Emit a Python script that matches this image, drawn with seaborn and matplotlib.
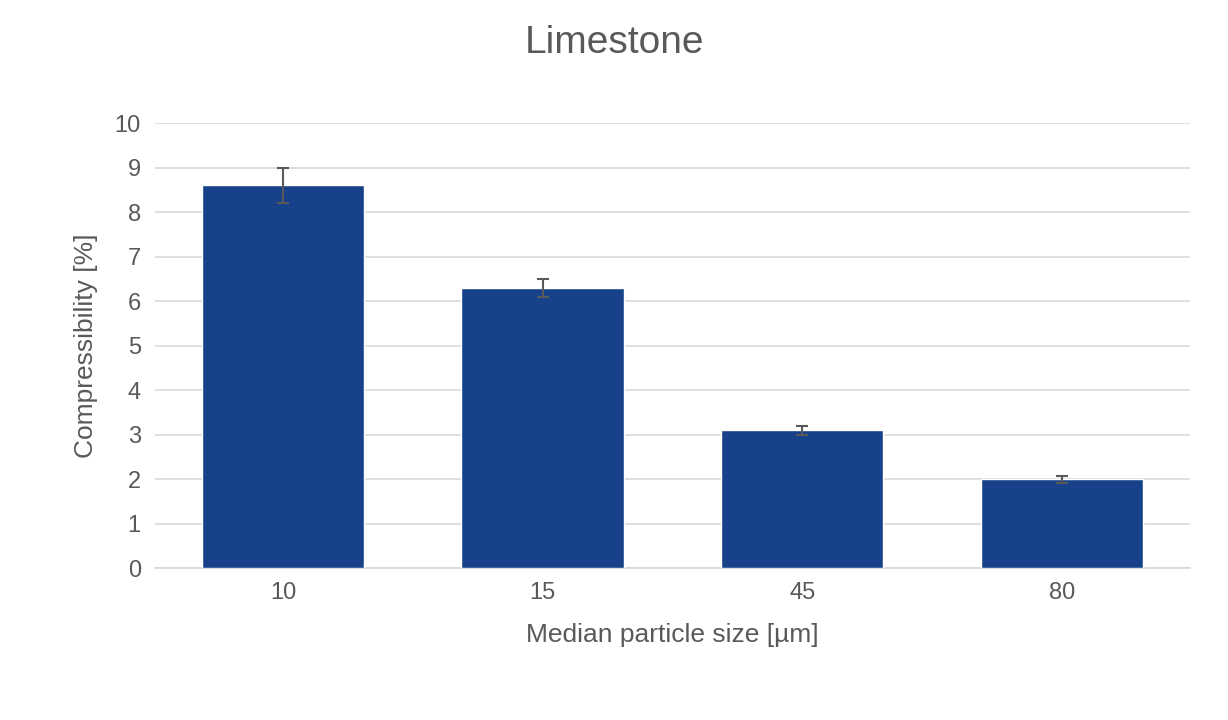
import matplotlib
matplotlib.use("Agg")
import matplotlib.pyplot as plt
import seaborn as sns
import pandas as pd

sizes = ["10", "15", "45", "80"]
compressibility = [8.6, 6.3, 3.1, 2.0]
errors = [0.4, 0.2, 0.1, 0.08]

sns.set_theme(style="white")
plt.rcParams['font.family'] = ['Liberation Sans', 'DejaVu Sans']
gray = "#595959"

df = pd.DataFrame({"size": sizes, "comp": compressibility})
fig = plt.figure(figsize=(12.28, 7.2), dpi=100)
ax = fig.add_axes([0.126, 0.211, 0.843, 0.618])
sns.barplot(data=df, x="size", y="comp", color="#17428A", saturation=1, width=0.625, ax=ax, zorder=3)
ax.errorbar(range(len(sizes)), compressibility, yerr=errors, fmt="none", ecolor=gray, elinewidth=1.5, capsize=4, capthick=1.5, zorder=4)
ax.set_ylim(0, 10)
ax.set_yticks(range(0, 11))
ax.yaxis.grid(True, color="#d9d9d9", linewidth=1.2, zorder=0)
for s in ["top", "right", "left"]:
    ax.spines[s].set_visible(False)
ax.spines["bottom"].set_color("#d9d9d9")
ax.tick_params(axis="both", colors=gray, labelsize=17, length=0, pad=10)
ax.set_xlabel("Median particle size [µm]", fontsize=19, color=gray, labelpad=14)
ax.set_ylabel("Compressibility [%]", fontsize=19, color=gray, labelpad=12)
fig.suptitle("Limestone", fontsize=28, color=gray, y=0.965)
fig.savefig("out.png", dpi=100)
